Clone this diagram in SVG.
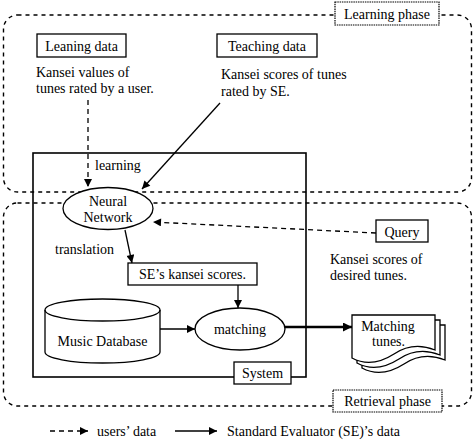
<svg xmlns="http://www.w3.org/2000/svg" width="474" height="440" viewBox="0 0 474 440" font-family="Liberation Serif, DejaVu Serif, serif">
<style>
text{font-family:'Liberation Serif','DejaVu Serif',serif;font-size:14px;fill:#000}
.c{text-anchor:middle}
.phase{fill:none;stroke:#000;stroke-width:1.4;stroke-dasharray:4 4}
.box{fill:#fff;stroke:#000;stroke-width:1.3}
.lbl{fill:#fff;stroke:#000;stroke-width:1.2;stroke-dasharray:1.5 0.8}
.sys{fill:none;stroke:#000;stroke-width:1.6}
.solid{fill:none;stroke:#000;stroke-width:1.3;marker-end:url(#ah)}
.dash{fill:none;stroke:#000;stroke-width:1.3;stroke-dasharray:5 4;marker-end:url(#ah)}
.thick{fill:none;stroke:#000;stroke-width:2.6;marker-end:url(#ahs)}
.shape{fill:#fff;stroke:#000;stroke-width:1.3}
</style>
<defs>
<marker id="ah" viewBox="0 0 10 10" refX="10" refY="5" markerWidth="9" markerHeight="8" markerUnits="userSpaceOnUse" orient="auto">
<path d="M0,0 L10,5 L0,10 Z" fill="#000"/>
</marker>
<marker id="ahs" viewBox="0 0 10 10" refX="10" refY="5" markerWidth="12" markerHeight="9" markerUnits="userSpaceOnUse" orient="auto">
<path d="M0,0 L10,5 L0,10 Z" fill="#000"/>
</marker>
</defs>

<g id="learning-phase">
<rect class="phase" x="3.5" y="15" width="468" height="177" rx="14"/>
<rect class="lbl" x="335" y="2" width="104" height="23"/>
<text class="c" x="387" y="19">Learning phase</text>
</g>
<g id="retrieval-phase">
<rect class="phase" x="3.5" y="203" width="468" height="203" rx="14"/>
<rect class="lbl" x="333" y="390" width="109" height="22"/>
<text class="c" x="387.5" y="406">Retrieval phase</text>
</g>

<g id="system">
<rect class="sys" x="33" y="153" width="273" height="224"/>
<rect class="box" x="234" y="362" width="57" height="22"/>
<text class="c" x="262.5" y="378">System</text>
</g>

<g id="leaning-data">
<rect class="box" x="37" y="34" width="89" height="23"/>
<text class="c" x="81.5" y="51">Leaning data</text>
<text x="36" y="77">Kansei values of</text>
<text x="36" y="93">tunes rated by a user.</text>
</g>

<g id="teaching-data">
<rect class="box" x="217" y="34" width="100" height="23"/>
<text class="c" x="267" y="51">Teaching data</text>
<text x="221" y="79">Kansei scores of tunes</text>
<text x="221" y="96">rated by SE.</text>
</g>

<g id="neural-network">
<ellipse class="shape" cx="108" cy="208.5" rx="45" ry="21"/>
<text class="c" x="108" y="206">Neural</text>
<text class="c" x="108" y="222">Network</text>
</g>

<g id="query">
<rect class="box" x="376" y="220" width="52" height="22"/>
<text class="c" x="402" y="237">Query</text>
<text x="330" y="264">Kansei scores of</text>
<text x="330" y="280">desired tunes.</text>
</g>

<g id="se-scores">
<rect class="box" x="128" y="263" width="129" height="22"/>
<text class="c" x="192.5" y="279">SE’s kansei scores.</text>
</g>

<g id="music-database">
<path class="shape" d="M45,310 A57.5,11 0 0 1 160,310 V352 A57.5,11 0 0 1 45,352 Z"/>
<path d="M45,310 A57.5,11 0 0 0 160,310" fill="none" stroke="#000" stroke-width="1.3"/>
<text class="c" x="102.5" y="346">Music Database</text>
</g>

<g id="matching">
<ellipse class="shape" cx="240" cy="329" rx="45" ry="21"/>
<text class="c" x="240" y="334">matching</text>
</g>

<g id="matching-tunes">
<path class="shape" d="M362,325 H445 V360 C430,354 416,356 404,364 C390,373 375,375 362,368 Z"/>
<path class="shape" d="M357,320 H440 V355 C425,349 411,351 399,359 C385,368 370,370 357,363 Z"/>
<path class="shape" d="M352,315 H435 V350 C420,344 406,346 394,354 C380,363 365,365 352,358 Z"/>
<text class="c" x="388" y="331">Matching</text>
<text x="372" y="346">tunes.</text>
</g>

<g id="connectors">
<line class="dash" x1="88" y1="100" x2="88" y2="187"/>
<text x="95" y="170">learning</text>
<line class="solid" x1="220" y1="103" x2="142" y2="189"/>
<line class="dash" x1="376" y1="233" x2="153" y2="222"/>
<line class="solid" x1="125" y1="230" x2="132" y2="263"/>
<text x="55" y="254">translation</text>
<line class="solid" x1="238" y1="285" x2="238" y2="308"/>
<line class="solid" x1="160" y1="329" x2="195" y2="329"/>
<line class="thick" x1="285" y1="327" x2="352" y2="327"/>
</g>

<g id="legend">
<line class="dash" x1="50" y1="431" x2="88" y2="431"/>
<text x="97" y="436">users’ data</text>
<line class="solid" x1="175" y1="431" x2="217" y2="431"/>
<text x="227" y="436">Standard Evaluator (SE)’s data</text>
</g>
</svg>
